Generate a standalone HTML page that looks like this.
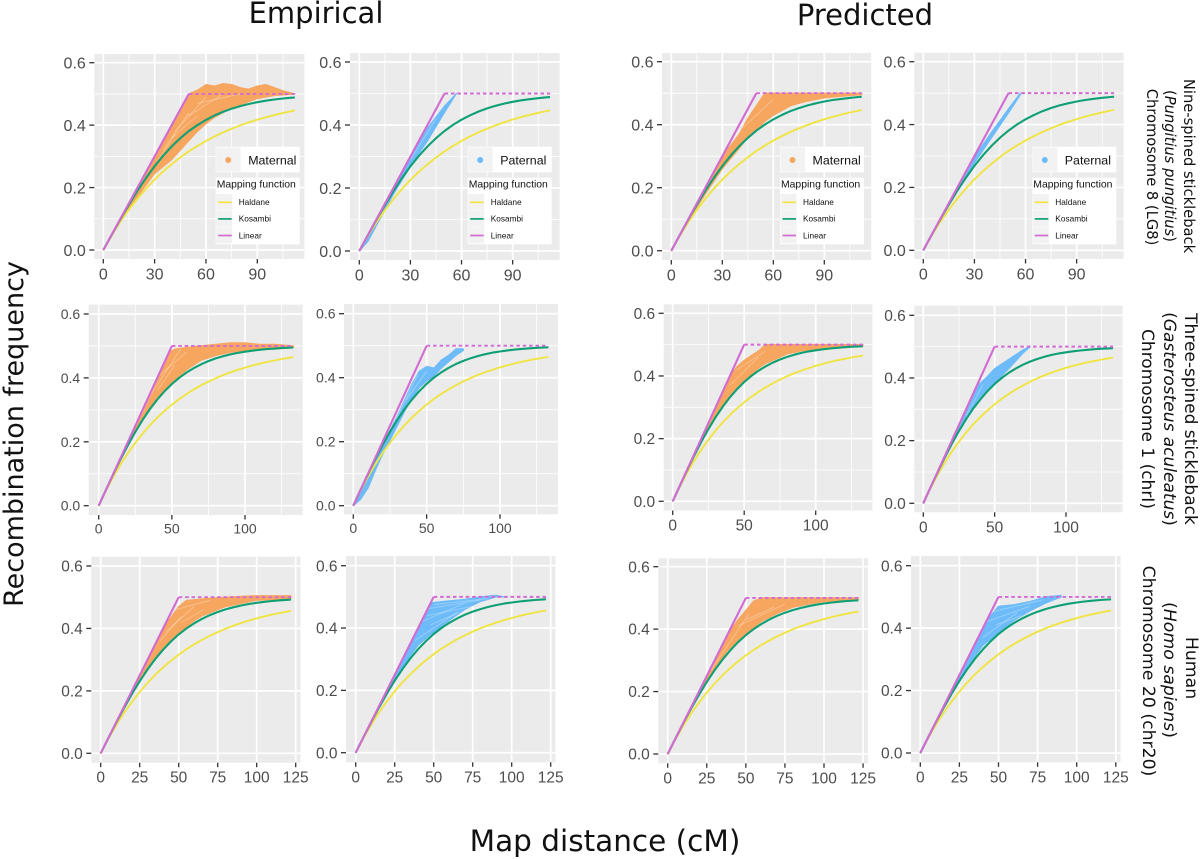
<!DOCTYPE html>
<html lang="en">
<head>
<meta charset="utf-8">
<title>Recombination frequency vs map distance</title>
<style>
html,body{margin:0;padding:0;background:#fff;}
svg{display:block;filter:blur(0.3px);}
.head{font-family:"DejaVu Sans",sans-serif;fill:#111;}
.side{font-family:"DejaVu Sans",sans-serif;fill:#111;text-anchor:middle;}
.tick{font-family:"Liberation Sans",sans-serif;fill:#4d4d4d;}
.leg{font-family:"Liberation Sans",sans-serif;fill:#111;}
</style>
</head>
<body>
<svg id="figure" xmlns="http://www.w3.org/2000/svg" width="1200" height="859" viewBox="0 0 1200 859">
  <text class="head" x="316" y="23" font-size="29" text-anchor="middle">Empirical</text>
  <text class="head" x="865" y="25" font-size="29" text-anchor="middle">Predicted</text>
  <text class="head" transform="translate(23 434) rotate(-90)" font-size="27" text-anchor="middle">Recombination frequency</text>
  <text class="head" x="605" y="851" font-size="29.5" text-anchor="middle">Map distance (cM)</text>

  <g font-size="14.7">
    <text class="side" transform="translate(1184 166) rotate(90)">Nine-spined stickleback</text>
    <text class="side" transform="translate(1165 166) rotate(90)">(<tspan font-style="italic">Pungitius pungitius</tspan>)</text>
    <text class="side" transform="translate(1147 167) rotate(90)">Chromosome 8 (LG8)</text>
  </g>
  <g font-size="17">
    <text class="side" transform="translate(1185 419) rotate(90)">Three-spined stickleback</text>
    <text class="side" transform="translate(1164 419) rotate(90)">(<tspan font-style="italic">Gasterosteus aculeatus</tspan>)</text>
    <text class="side" transform="translate(1142 419) rotate(90)">Chromosome 1 (chrI)</text>
  </g>
  <g font-size="17.3">
    <text class="side" transform="translate(1186 668) rotate(90)">Human</text>
    <text class="side" transform="translate(1164 670) rotate(90)">(<tspan font-style="italic">Homo sapiens</tspan>)</text>
    <text class="side" transform="translate(1143 671) rotate(90)">Chromosome 20 (chr20)</text>
  </g>
</svg>

<script>
// ---- Mapping function curves ----
const curveDistance = [0,5,10,15,20,25,30,35,40,45,50,55,60,65,70,75,80,85,90,95,100,105,110,115,120,125,130,135];
const haldaneValues = [0,.0476,.0906,.1296,.1648,.1967,.2256,.2517,.2753,.2967,.3161,.3336,.3494,.3637,.3767,.3884,.3991,.4087,.4174,.4252,.4323,.4388,.4446,.4499,.4546,.459,.4629,.4664];
const kosambiValues = [0,.0498,.0987,.1457,.19,.2311,.2685,.3022,.332,.3582,.3808,.4002,.4168,.4308,.4427,.4526,.4609,.4678,.4735,.4783,.482,.4852,.4878,.49,.4918,.4933,.4945,.4955];
const linearDistance = [0,50];
const linearValues = [0,.5];
const plateauValue = .5;

// ---- Axes ----
const rowMaxDistance = [112,133,122];
const rowXTicks = [[0,30,60,90],[0,50,100],[0,25,50,75,100,125]];
const rowXMinor = [[15,45,75,105],[25,75,125],[]];
const yTicks = [0,.2,.4,.6];
const yTickLabels = ['0.0','0.2','0.4','0.6'];
const rowYMinor = [[.1,.3,.5],[.1,.3,.5],[]];

// ---- Point clouds: distance, lower edge, upper edge ----
const empMat1Dist = [0,10,20,30,40,45,50,55,60,65,70,75,80,85,90,95,100,105,112];
const empMat1Low  = [0,.09,.17,.245,.29,.32,.35,.38,.405,.425,.44,.455,.465,.475,.485,.49,.495,.497,.5];
const empMat1High = [0,.1,.2,.3,.4,.45,.5,.512,.53,.525,.533,.53,.52,.515,.525,.53,.52,.51,.5];
const empPat1Dist = [0,5,10,20,30,40,50,57];
const empPat1Low  = [0,.03,.08,.18,.27,.35,.44,.5];
const empPat1High = [0,.05,.1,.2,.3,.39,.46,.5];
const preMat1Dist = [0,10,20,30,40,45,50,55,60,70,80,90,100,112];
const preMat1Low  = [0,.095,.18,.26,.325,.36,.385,.41,.43,.46,.475,.485,.49,.495];
const preMat1High = [0,.1,.2,.3,.37,.42,.46,.5,.5,.5,.5,.5,.5,.5];
const prePat1Dist = [0,10,25,30,40,50,57];
const prePat1Low  = [0,.098,.235,.278,.358,.437,.495];
const prePat1High = [0,.1,.25,.297,.375,.45,.5];

const empMat2Dist = [0,10,20,30,40,48,52,60,70,80,90,100,110,120,133];
const empMat2Low  = [0,.095,.19,.27,.335,.375,.395,.425,.455,.47,.48,.485,.49,.49,.495];
const empMat2High = [0,.1,.2,.3,.4,.48,.49,.495,.5,.505,.51,.51,.505,.505,.5];
const empPat2Dist = [0,5,10,15,20,25,30,35,40,45,50,55,60,65,70,75];
const empPat2Low  = [0,.02,.055,.11,.16,.205,.25,.295,.335,.37,.39,.405,.43,.45,.47,.485];
const empPat2High = [0,.04,.09,.14,.19,.235,.28,.33,.38,.42,.435,.43,.455,.47,.49,.49];
const preMat2Dist = [0,10,20,30,40,45,50,60,65,70,80,90,100,120,133];
const preMat2Low  = [0,.097,.195,.27,.34,.365,.385,.425,.44,.45,.47,.48,.485,.49,.495];
const preMat2High = [0,.1,.2,.3,.4,.43,.45,.48,.5,.5,.5,.5,.5,.5,.5];
const prePat2Dist = [0,10,20,30,38,45,50,60,70,75];
const prePat2Low  = [0,.097,.19,.275,.33,.365,.385,.43,.48,.5];
const prePat2High = [0,.1,.195,.3,.375,.405,.43,.46,.49,.5];

const empMat3Dist = [0,10,20,30,40,50,55,60,65,70,80,90,100,122];
const empMat3Low  = [0,.097,.19,.275,.34,.385,.405,.425,.44,.45,.47,.48,.49,.495];
const empMat3High = [0,.1,.2,.3,.4,.47,.49,.492,.495,.497,.5,.503,.505,.505];
const empPat3Dist = [0,10,20,30,40,48,50,60,70,80,90,95];
const empPat3Low  = [0,.098,.195,.275,.345,.38,.385,.425,.46,.485,.5,.5];
const empPat3High = [0,.1,.2,.3,.4,.48,.482,.487,.492,.5,.505,.5];
const preMat3Dist = [0,10,20,30,38,45,50,55,60,70,80,90,100,122];
const preMat3Low  = [0,.097,.195,.275,.33,.365,.385,.405,.425,.45,.47,.48,.488,.495];
const preMat3High = [0,.1,.2,.3,.38,.43,.46,.49,.5,.5,.5,.5,.5,.5];
const prePat3Dist = [0,10,20,30,40,45,50,60,70,80,90];
const prePat3Low  = [0,.098,.195,.275,.345,.365,.385,.425,.455,.48,.5];
const prePat3High = [0,.1,.2,.3,.4,.44,.47,.475,.485,.5,.505];

// ---- Pale streaks inside the clouds: each is start distance, start value, end distance, end value ----
const empMat1Streaks = [[35,.32,50,.44],[42,.38,60,.49],[50,.43,70,.5],[55,.47,80,.5],[40,.36,55,.43],[30,.27,42,.37]];
const empPat1Streaks = [[30,.29,45,.42]];
const preMat1Streaks = [[42,.39,60,.48]];
const prePat1Streaks = [];
const empMat2Streaks = [[30,.29,46,.46],[36,.35,56,.49],[42,.41,60,.48],[40,.36,52,.44]];
const empPat2Streaks = [[28,.26,44,.41],[36,.33,50,.42]];
const preMat2Streaks = [[40,.37,60,.46],[45,.42,65,.48]];
const prePat2Streaks = [[30,.28,42,.38]];
const empMat3Streaks = [[38,.36,52,.44],[42,.39,60,.47],[48,.46,70,.49],[52,.42,66,.46]];
const empPat3Streaks = [[42,.42,70,.48],[44,.46,80,.49],[46,.44,75,.47],[38,.36,65,.45],[48,.41,66,.45],[50,.475,85,.495]];
const preMat3Streaks = [[28,.27,52,.45],[45,.41,75,.48],[50,.43,68,.47]];
const prePat3Streaks = [[42,.42,70,.47],[44,.45,78,.49],[40,.37,62,.45],[48,.41,65,.44]];

// ---- Legend text ----
const legendTitle = 'Mapping function';
const legendEntries = ['Haldane','Kosambi','Linear'];

// ---- Colours ----
const MAT = '#F6A65F', PAT = '#6DBBF8';
const HAL = '#F0E442', KOS = '#0E9F75', LIN = '#D26BD2';

// ---- Layout only (pixel geometry of each panel) ----
const panels = [
 {key:'empirical-maternal-lg8', row:0,left:94.3,top:54,bottom:259,x0:103.3,kx:1.711,y0:250,y6:62.7,fs:16,color:MAT,dist:empMat1Dist,low:empMat1Low,high:empMat1High,streaks:empMat1Streaks,legend:'Maternal',lx:215.7},
 {key:'empirical-paternal-lg8', row:0,left:350,top:53,bottom:260,x0:359.3,kx:1.704,y0:251,y6:62,fs:16,color:PAT,dist:empPat1Dist,low:empPat1Low,high:empPat1High,streaks:empPat1Streaks,legend:'Paternal',lx:467.7},
 {key:'predicted-maternal-lg8', row:0,left:662,top:53,bottom:260,x0:671.3,kx:1.70,y0:250.7,y6:61.7,fs:16,color:MAT,dist:preMat1Dist,low:preMat1Low,high:preMat1High,streaks:preMat1Streaks,legend:'Maternal',lx:780},
 {key:'predicted-paternal-lg8', row:0,left:914.3,top:52.7,bottom:259,x0:923.3,kx:1.704,y0:250.3,y6:61.7,fs:16,color:PAT,dist:prePat1Dist,low:prePat1Low,high:prePat1High,streaks:prePat1Streaks,legend:'Paternal',lx:1032.3},
 {key:'empirical-maternal-chr1', row:1,left:88.7,top:304.7,bottom:515,x0:98.7,kx:1.463,y0:505.7,y6:314,fs:14,color:MAT,dist:empMat2Dist,low:empMat2Low,high:empMat2High,streaks:empMat2Streaks},
 {key:'empirical-paternal-chr1', row:1,left:344,top:304,bottom:514.3,x0:353.3,kx:1.467,y0:505.7,y6:313.7,fs:14,color:PAT,dist:empPat2Dist,low:empPat2Low,high:empPat2High,streaks:empPat2Streaks},
 {key:'predicted-maternal-chr1', row:1,left:663.7,top:304.3,bottom:510.5,x0:672.7,kx:1.43,y0:501.3,y6:313.3,fs:15.5,color:MAT,dist:preMat2Dist,low:preMat2Low,high:preMat2High,streaks:preMat2Streaks},
 {key:'predicted-paternal-chr1', row:1,left:914.3,top:305.7,bottom:512.3,x0:923.3,kx:1.427,y0:503.3,y6:315.3,fs:15.5,color:PAT,dist:prePat2Dist,low:prePat2Low,high:prePat2High,streaks:prePat2Streaks},
 {key:'empirical-maternal-chr20', row:2,left:91.3,top:556.7,bottom:762.7,x0:100.7,kx:1.56,y0:753.3,y6:566,fs:15.5,color:MAT,dist:empMat3Dist,low:empMat3Low,high:empMat3High,streaks:empMat3Streaks},
 {key:'empirical-paternal-chr20', row:2,left:346,top:556,bottom:762.3,x0:355.7,kx:1.56,y0:752.7,y6:565.7,fs:15.5,color:PAT,dist:empPat3Dist,low:empPat3Low,high:empPat3High,streaks:empPat3Streaks},
 {key:'predicted-maternal-chr20', row:2,left:658.3,top:558.3,bottom:763.3,x0:667.7,kx:1.563,y0:754,y6:566.7,fs:15.5,color:MAT,dist:preMat3Dist,low:preMat3Low,high:preMat3High,streaks:preMat3Streaks},
 {key:'predicted-paternal-chr20', row:2,left:911,top:556,bottom:762.3,x0:920.3,kx:1.564,y0:753,y6:565.7,fs:15.5,color:PAT,dist:prePat3Dist,low:prePat3Low,high:prePat3High,streaks:prePat3Streaks}
];

const NS = 'http://www.w3.org/2000/svg';
const fig = document.getElementById('figure');

function make(parent, tag, props, text) {
  const node = document.createElementNS(NS, tag);
  for (const k in props) node.setAttribute(k, props[k]);
  if (text !== undefined) node.textContent = text;
  parent.appendChild(node);
  return node;
}

function clipCurve(ds, vs, xMax) {
  const pts = [];
  for (let i = 0; i < ds.length; i++) {
    if (ds[i] <= xMax) { pts.push([ds[i], vs[i]]); }
    else {
      const t = (xMax - ds[i-1]) / (ds[i] - ds[i-1]);
      pts.push([xMax, vs[i-1] + t * (vs[i] - vs[i-1])]);
      break;
    }
  }
  return pts;
}

function drawLegend(g, p) {
  const L = p.lx;
  const box = make(g, 'rect', {x:L, y:146.7, width:84, height:25.6, fill:'#fff'});
  
  
  const key = make(g, 'rect', {x:L+.5, y:147.5, width:24.5, height:24, fill:'#F2F2F2'});
  
  
  const dot = make(g, 'circle', {cx:L+12.5, cy:160, r:3, fill:p.color});
  
  
  const lab = make(g, 'text', {x:L+32.5, y:164.4, 'font-size':12.4, class:'leg'}, p.legend);
  
  

  const box2 = make(g, 'rect', {x:L, y:177.7, width:84, height:66.6, fill:'#fff'});
  
  
  const title = make(g, 'text', {x:L+1, y:187.5, 'font-size':10.4, class:'leg'}, legendTitle);
  
  
  const colors = [HAL, KOS, LIN];
  legendEntries.forEach(function (name, i) {
    const ky = 194 + i * 16.6;
    const sq = make(g, 'rect', {x:L+.5, y:ky, width:16, height:16.2, fill:'#F2F2F2'});
    
    
    const ln = make(g, 'line', {x1:L+2.5, x2:L+16, y1:ky+8.3, y2:ky+8.3, stroke:colors[i], 'stroke-width':1.7});
    
    
    const tx = make(g, 'text', {x:L+23, y:ky+11.1, 'font-size':8.3, class:'leg'}, name);
    
    
  });
}

function drawPanel(p) {
  const xMax = rowMaxDistance[p.row];
  const X = function (d) { return p.x0 + d * p.kx; };
  const Y = function (r) { return p.y0 - r * (p.y0 - p.y6) / .6; };
  const right = X(xMax) + 9.5;

  const g = make(fig, 'g', {});
  
  

  const bg = make(g, 'rect', {x:p.left, y:p.top, width:right-p.left, height:p.bottom-p.top, fill:'#EBEBEB'});
  
  

  rowYMinor[p.row].forEach(function (v) {
    const m = make(g, 'line', {x1:p.left, x2:right, y1:Y(v), y2:Y(v), stroke:'#fff', 'stroke-width':.8});
    
    
  });
  rowXMinor[p.row].forEach(function (v) {
    if (X(v) > right) return;
    const m = make(g, 'line', {x1:X(v), x2:X(v), y1:p.top, y2:p.bottom, stroke:'#fff', 'stroke-width':.8});
    
    
  });
  yTicks.forEach(function (v, i) {
    const m = make(g, 'line', {x1:p.left, x2:right, y1:Y(v), y2:Y(v), stroke:'#fff', 'stroke-width':1.7});
    
    
    const t = make(g, 'line', {x1:p.left-5, x2:p.left, y1:Y(v), y2:Y(v), stroke:'#333', 'stroke-width':1.3});
    
    
    const l = make(g, 'text', {x:p.left-8.5, y:Y(v)+p.fs*.36, 'font-size':p.fs, 'text-anchor':'end', class:'tick'}, yTickLabels[i]);
    
    
  });
  rowXTicks[p.row].forEach(function (v) {
    const m = make(g, 'line', {x1:X(v), x2:X(v), y1:p.top, y2:p.bottom, stroke:'#fff', 'stroke-width':1.7});
    
    
    const t = make(g, 'line', {x1:X(v), x2:X(v), y1:p.bottom, y2:p.bottom+4.5, stroke:'#333', 'stroke-width':1.3});
    
    
    const l = make(g, 'text', {x:X(v), y:p.bottom+6+p.fs*.9, 'font-size':p.fs, 'text-anchor':'middle', class:'tick'}, String(v));
    
    
  });

  // point cloud
  const up = p.dist.map(function (d, i) { return X(d).toFixed(1) + ',' + Y(p.high[i]).toFixed(1); });
  const dn = p.dist.map(function (d, i) { return X(d).toFixed(1) + ',' + Y(p.low[i]).toFixed(1); }).reverse();
  const cloud = make(g, 'polygon', {points:up.concat(dn).join(' '), fill:p.color, stroke:p.color, 'stroke-width':1.2, 'stroke-linejoin':'round'});
  
  
  p.streaks.forEach(function (s) {
    const st = make(g, 'line', {x1:X(s[0]), y1:Y(s[1]), x2:X(s[2]), y2:Y(s[3]), stroke:'#fff', 'stroke-opacity':.26, 'stroke-width':1.1});
    
    
  });

  // mapping functions
  const toPts = function (arr) { return arr.map(function (q) { return X(q[0]).toFixed(1) + ',' + Y(q[1]).toFixed(1); }).join(' '); };
  const hal = make(g, 'polyline', {points:toPts(clipCurve(curveDistance, haldaneValues, xMax)), fill:'none', stroke:HAL, 'stroke-width':1.9, 'stroke-linejoin':'round'});
  
  
  const kos = make(g, 'polyline', {points:toPts(clipCurve(curveDistance, kosambiValues, xMax)), fill:'none', stroke:KOS, 'stroke-width':2.1, 'stroke-linejoin':'round'});
  
  
  const lin = make(g, 'polyline', {points:toPts(linearDistance.map(function (d, i) { return [d, linearValues[i]]; })), fill:'none', stroke:LIN, 'stroke-width':2.1, 'stroke-linejoin':'round'});
  
  
  const pl = make(g, 'line', {x1:X(linearDistance[1]), x2:X(xMax), y1:Y(plateauValue), y2:Y(plateauValue), stroke:LIN, 'stroke-width':1.9, 'stroke-dasharray':'3.6 2.8'});
  
  

  if (p.legend) drawLegend(g, p);
}

panels.forEach(drawPanel);
</script>
</body>
</html>
